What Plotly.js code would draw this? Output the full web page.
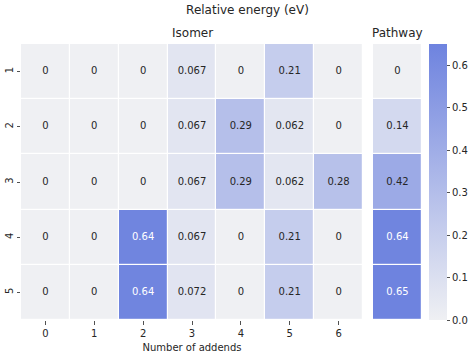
<!DOCTYPE html>
<html>
<head>
<meta charset="utf-8">
<script src="https://cdn.plot.ly/plotly-3.0.1.min.js"></script>
<style>html,body{margin:0;padding:0;background:#fff;}#chart{width:474px;height:355px;}</style>
</head>
<body>
<div id="chart"></div>
<script>
// Data
const addends = [0, 1, 2, 3, 4, 5, 6];
const rows = [1, 2, 3, 4, 5];
const isomer = [
  [0, 0, 0,    0.067, 0,    0.21,  0],
  [0, 0, 0,    0.067, 0.29, 0.062, 0],
  [0, 0, 0,    0.067, 0.29, 0.062, 0.28],
  [0, 0, 0.64, 0.067, 0,    0.21,  0],
  [0, 0, 0.64, 0.072, 0,    0.21,  0]
];
const pathway = [0, 0.14, 0.42, 0.64, 0.65];

const zmax = Math.max(...isomer.flat(), ...pathway);
const colorscale = [[0, '#eff0f3'], [1, '#6e83df']];
const dark = '#262626';
const txtColor = v => (v / zmax > 0.8 ? '#ffffff' : dark);
const font = 'DejaVu Sans, sans-serif';

// text overlay points
const ix = [], iy = [], it = [], ic = [];
rows.forEach((r, i) => addends.forEach((a, j) => {
  ix.push(a); iy.push(r); it.push(String(isomer[i][j])); ic.push(txtColor(isomer[i][j]));
}));
const px = rows.map(() => 0);
const pt = pathway.map(v => String(v));
const pc = pathway.map(txtColor);

const traces = [
  {type: 'heatmap', x: addends, y: rows, z: isomer, xaxis: 'x', yaxis: 'y',
   colorscale: colorscale, zmin: 0, zmax: zmax, xgap: 1.2, ygap: 1.2, showscale: false, hoverinfo: 'skip'},
  {type: 'heatmap', x: [0], y: rows, z: pathway.map(v => [v]), xaxis: 'x2', yaxis: 'y',
   colorscale: colorscale, zmin: 0, zmax: zmax, xgap: 1.2, ygap: 1.2, showscale: true, hoverinfo: 'skip',
   colorbar: {thickness: 18, thicknessmode: 'pixels', len: 276, lenmode: 'pixels',
     x: 408 / 453, xanchor: 'left', y: 0.5, yanchor: 'middle', xpad: 0, ypad: 0,
     outlinewidth: 0, ticks: 'outside', ticklen: 3.5, tickwidth: 0.8, tickcolor: dark,
     tickformat: '.1f', dtick: 0.1, tick0: 0, tickfont: {size: 10, color: dark, family: font}}},
  {type: 'scatter', mode: 'text', x: ix, y: iy, text: it, xaxis: 'x', yaxis: 'y',
   textfont: {size: 10, color: ic, family: font}, hoverinfo: 'skip', showlegend: false},
  {type: 'scatter', mode: 'text', x: px, y: rows, text: pt, xaxis: 'x2', yaxis: 'y',
   textfont: {size: 10, color: pc, family: font}, hoverinfo: 'skip', showlegend: false}
];

const layout = {
  width: 474, height: 355,
  margin: {l: 21, r: 0, t: 44, b: 35},
  paper_bgcolor: '#ffffff', plot_bgcolor: '#ffffff',
  font: {family: font, color: dark, size: 10},
  showlegend: false,
  title: {text: 'Relative energy (eV)', font: {size: 12, color: dark, family: font},
    x: 237 / 474, xanchor: 'center', xref: 'paper', y: 1 - 10 / 355, yanchor: 'middle', yref: 'container'},
  xaxis: {domain: [0, 342 / 453], range: [-0.5, 6.5], tickvals: addends, ticktext: addends.map(String),
    ticks: 'outside', ticklen: 3.5, tickwidth: 0.8, tickcolor: dark, showgrid: false, zeroline: false,
    showline: false, anchor: 'y', tickfont: {size: 10, color: dark},
    title: {text: 'Number of addends', font: {size: 10, color: dark}, standoff: 6}},
  xaxis2: {domain: [352 / 453, 401 / 453], range: [-0.5, 0.5], showticklabels: false, ticks: '',
    showgrid: false, zeroline: false, showline: false, anchor: 'y'},
  yaxis: {range: [5.5, 0.5], tickvals: rows, ticktext: rows.map(String), ticks: 'outside', ticklen: 3.5,
    tickwidth: 0.8, tickcolor: dark, tickangle: -90, showgrid: false, zeroline: false, showline: false,
    tickfont: {size: 10, color: dark}},
  annotations: [
    {text: 'Isomer', xref: 'paper', yref: 'paper', x: 171 / 453, y: 1 + 11 / 276, xanchor: 'center', yanchor: 'middle',
     showarrow: false, font: {size: 12, color: dark}},
    {text: 'Pathway', xref: 'paper', yref: 'paper', x: 376.5 / 453, y: 1 + 11 / 276, xanchor: 'center', yanchor: 'middle',
     showarrow: false, font: {size: 12, color: dark}}
  ]
};

Plotly.newPlot('chart', traces, layout, {displayModeBar: false, staticPlot: true});
</script>
</body>
</html>
